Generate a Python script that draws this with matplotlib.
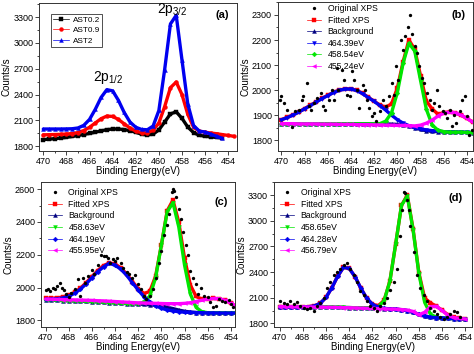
import matplotlib
matplotlib.use('Agg')
import matplotlib.pyplot as plt
from matplotlib.ticker import MultipleLocator, FixedLocator

plt.rcParams['font.family'] = ['Liberation Sans', 'DejaVu Sans']
plt.rcParams['mathtext.fontset'] = 'custom'
plt.rcParams['mathtext.rm'] = 'Liberation Sans'
plt.rcParams['mathtext.it'] = 'Liberation Sans:italic'
plt.rcParams['mathtext.bf'] = 'Liberation Sans:bold'
plt.rcParams['mathtext.default'] = 'regular'

# ---------------- data ----------------
E = [470.0, 469.5, 469.0, 468.5, 468.0, 467.5, 467.0, 466.5, 466.0, 465.5, 465.0,
     464.5, 464.0, 463.5, 463.0, 462.5, 462.0, 461.5, 461.0, 460.5, 460.0, 459.5,
     459.0, 458.5, 458.0, 457.5, 457.0, 456.5, 456.0, 455.5, 455.0, 454.5, 454.0, 453.5]

# panel (a)
ast02 = [1877, 1882, 1888, 1895, 1903, 1913, 1924, 1936, 1949, 1963, 1978, 1992, 2000,
         2000, 1993, 1980, 1962, 1940, 1930, 1940, 1990, 2081, 2175, 2200, 2123, 2023,
         1958, 1927, 1915, 1908, 1902, 1896]
ast09 = [1932, 1934, 1936, 1938, 1942, 1947, 1959, 1982, 2020, 2070, 2120, 2150, 2146,
         2111, 2060, 2011, 1976, 1957, 1955, 1985, 2070, 2260, 2480, 2545, 2400, 2170,
         2020, 1975, 1963, 1953, 1945, 1935, 1925, 1915]
ast2 = [2000, 2000, 2000, 2000, 2001, 2003, 2012, 2042, 2111, 2229, 2366, 2457, 2443,
        2333, 2192, 2081, 2020, 1995, 1991, 2034, 2215, 2690, 3220, 3320, 2800, 2290,
        2040, 1975, 1965, 1940, 1915, 1890]

# panel (b)
b_fit = [1882, 1891, 1901, 1913, 1926, 1939, 1953, 1967, 1979, 1991, 2000, 2005, 2005,
         1999, 1987, 1971, 1956, 1940, 1932, 1945, 2008, 2114, 2200, 2163, 2058, 1957,
         1925, 1904, 1910, 1913, 1909, 1899, 1887, 1872]
b_bg = [1865, 1865, 1865, 1865, 1865, 1865, 1865, 1865, 1865, 1865, 1865, 1865, 1865,
        1865, 1865, 1865, 1865, 1865, 1865, 1864, 1863, 1861, 1857, 1850, 1843, 1838,
        1835, 1834, 1833, 1832, 1832, 1832, 1831, 1830]
b_p1 = [1881, 1890, 1900, 1912, 1925, 1938, 1952, 1966, 1978, 1990, 1999, 2004, 2004,
        1998, 1986, 1970, 1955, 1938, 1920, 1900, 1882, 1868, 1858, 1850, 1845, 1841,
        1838, 1836, 1834, 1833, 1832, 1831, 1831, 1830]
b_p2 = [1865, 1865, 1865, 1865, 1865, 1865, 1865, 1865, 1865, 1865, 1865, 1865, 1865,
        1865, 1865, 1865, 1865, 1866, 1876, 1909, 1990, 2108, 2187, 2156, 2039, 1924,
        1861, 1840, 1834, 1832, 1832, 1832, 1831, 1830]
b_p3 = [1866, 1866, 1866, 1865, 1865, 1865, 1865, 1864, 1864, 1864, 1863, 1863, 1863,
        1862, 1862, 1862, 1861, 1861, 1860, 1860, 1859, 1859, 1858, 1857, 1860, 1868,
        1880, 1896, 1908, 1912, 1909, 1900, 1887, 1872]
b_sx = [470.1, 470.0, 469.8, 469.5, 469.1, 468.8, 468.5, 468.2, 468.1, 467.8, 467.6,
        467.4, 467.2, 466.9, 466.6, 466.4, 466.2, 465.9, 465.6, 465.5, 465.2, 465.1,
        464.8, 464.6, 464.3, 464.1, 463.9, 463.7, 463.5, 463.3, 463.0, 462.8, 462.6,
        462.4, 462.2, 462.0, 461.8, 461.5, 461.2, 461.0, 460.7, 460.5, 460.3, 460.1,
        459.9, 459.7, 459.5, 459.3, 459.1, 458.9, 458.7, 458.5, 458.3, 458.1, 457.9,
        457.7, 457.4, 457.2, 457.0, 456.8, 456.6, 456.4, 456.1, 455.9, 455.7, 455.5,
        455.3, 455.1, 454.9, 454.6, 454.4, 454.2, 454.0, 453.8, 453.6]
b_sy = [1961, 1975, 1948, 1921, 1853, 1915, 1921, 1961, 1975, 2028, 1935, 1921, 1948,
        1968, 1988, 1935, 1921, 1961, 2001, 1961, 2088, 2001, 2081, 2041, 1981, 1975,
        2075, 2041, 2001, 1928, 2021, 2001, 1961, 1928, 1895, 1908, 1875, 1915, 1961,
        1935, 1975, 2028, 1981, 2095, 2041, 2199, 2161, 2215, 2251, 2301, 2224, 2175,
        2148, 2095, 2048, 2028, 1988, 1961, 1921, 1948, 2001, 1935, 1915, 1908, 1888,
        1921, 1855, 1901, 1868, 1915, 1961, 1975, 1895, 1821, 1841]

# panel (c)
c_fit = [1934, 1935, 1937, 1943, 1954, 1971, 1996, 2030, 2067, 2104, 2134, 2150, 2144,
         2120, 2083, 2037, 1993, 1964, 1977, 2070, 2260, 2468, 2533, 2399, 2179, 2016,
         1946, 1929, 1931, 1934, 1932, 1922, 1905, 1885]
c_bg = [1925, 1924, 1923, 1921, 1920, 1919, 1918, 1916, 1915, 1913, 1911, 1909, 1907,
        1905, 1903, 1901, 1900, 1898, 1895, 1892, 1888, 1880, 1872, 1863, 1856, 1851,
        1848, 1847, 1846, 1846, 1845, 1845, 1845, 1845]
c_p1 = [1925, 1924, 1923, 1921, 1920, 1919, 1918, 1916, 1915, 1913, 1911, 1909, 1907,
        1905, 1903, 1901, 1903, 1910, 1949, 2060, 2259, 2462, 2517, 2370, 2137, 1961,
        1879, 1853, 1847, 1846, 1845, 1845, 1845, 1845]
c_p2 = [1929, 1930, 1932, 1937, 1948, 1965, 1990, 2023, 2060, 2097, 2126, 2148, 2136,
        2112, 2075, 2029, 1985, 1944, 1913, 1890, 1874, 1864, 1858, 1853, 1850, 1849,
        1848, 1847, 1846, 1846, 1845, 1845, 1845, 1845]
c_p3 = [1930, 1929, 1928, 1927, 1926, 1925, 1924, 1923, 1922, 1920, 1919, 1917, 1915,
        1913, 1911, 1909, 1907, 1906, 1905, 1904, 1903, 1902, 1902, 1902, 1904, 1908,
        1915, 1923, 1930, 1934, 1932, 1922, 1905, 1885]
c_sx = [470.0, 469.8, 469.6, 469.4, 469.2, 469.0, 468.8, 468.6, 468.4, 468.2, 468.0,
        467.8, 467.5, 467.2, 467.0, 466.8, 466.6, 466.3, 466.0, 465.8, 465.5, 465.2,
        465.0, 464.8, 464.6, 464.4, 464.2, 464.0, 463.8, 463.5, 463.3, 463.0, 462.8,
        462.5, 462.3, 462.0, 461.8, 461.5, 461.3, 461.0, 460.7, 460.5, 460.2, 460.0,
        459.8, 459.5, 459.3, 459.1, 459.0, 458.9, 458.7, 458.5, 458.3, 458.1, 457.9,
        457.7, 457.5, 457.3, 457.0, 456.8, 456.6, 456.3, 456.0, 455.8, 455.5, 455.3,
        455.0, 454.8, 454.5, 454.2, 454.0, 453.8, 453.5, 453.3]
c_sy = [1985, 1990, 1980, 2000, 1990, 2010, 2025, 2000, 1985, 1960, 1945, 1970, 1990,
        2050, 1950, 2060, 2030, 2070, 2110, 2080, 2135, 2200, 2195, 2190, 2180, 2150,
        2175, 2165, 2180, 2150, 2120, 2095, 2080, 2060, 2075, 2020, 1990, 1950, 1930,
        1950, 1990, 2060, 2150, 2220, 2320, 2380, 2450, 2580, 2600, 2590, 2550, 2480,
        2420, 2340, 2260, 2200, 2100, 2060, 2020, 1960, 2000, 1950, 1940, 1910, 1880,
        1890, 1930, 1920, 1915, 1925, 1900, 1880, 1940, 1930]

# panel (d)
d_fit = [1997, 1996, 1995, 1994, 1994, 1996, 2005, 2035, 2104, 2217, 2351, 2455, 2442,
         2345, 2210, 2094, 2023, 2007, 2068, 2293, 2728, 3178, 3300, 2903, 2392, 2095,
         2040, 2000, 1955, 1900, 1870, 1860, 1854]
d_bg = [1990, 1990, 1990, 1990, 1990, 1990, 1990, 1990, 1990, 1989, 1988, 1986, 1985,
        1983, 1982, 1980, 1978, 1975, 1972, 1969, 1966, 1960, 1950, 1930, 1905, 1885,
        1872, 1866, 1862, 1859, 1856, 1854, 1852]
d_p1 = [1990, 1990, 1990, 1990, 1990, 1990, 1990, 1990, 1990, 1989, 1988, 1986, 1985,
        1983, 1982, 1980, 1978, 1993, 2064, 2292, 2728, 3178, 3290, 2893, 2382, 2045,
        1908, 1871, 1862, 1859, 1856, 1854, 1852]
d_p2 = [1990, 1990, 1990, 1990, 1991, 1994, 2004, 2035, 2104, 2217, 2351, 2455, 2442,
        2345, 2210, 2094, 2023, 1989, 1976, 1970, 1966, 1960, 1950, 1930, 1905, 1885,
        1872, 1866, 1862, 1859, 1856, 1854, 1852]
d_p3 = [1997, 1996, 1995, 1994, 1993, 1992, 1991, 1990, 1989, 1988, 1986, 1985, 1983,
        1981, 1979, 1977, 1975, 1973, 1971, 1968, 1966, 1962, 1955, 1940, 1900, 1930,
        1995, 2000, 1950, 1895, 1868, 1858, 1852]
d_sx = [469.94, 469.66, 469.37, 469.08, 468.79, 468.51, 468.22, 467.93, 467.65, 467.36,
        467.07, 466.78, 466.50, 466.21, 465.92, 465.64, 465.35, 465.06, 464.77, 464.49,
        464.20, 463.91, 463.62, 463.34, 463.05, 462.76, 462.47, 462.19, 461.90, 461.61,
        461.32, 461.04, 460.75, 460.46, 460.17, 459.89, 459.60, 459.46, 459.31, 459.17,
        459.03, 458.89, 458.74, 458.45, 458.16, 457.88, 457.59, 457.30, 457.02, 456.73,
        456.44, 456.15, 455.87, 455.58, 455.29, 455.01, 454.72, 454.43]
d_sy = [2060, 2041, 2021, 2067, 2021, 2052, 2002, 1976, 1964, 1983, 1945, 2002, 2041,
        2098, 2212, 2289, 2365, 2403, 2441, 2480, 2510, 2441, 2365, 2289, 2174, 2136,
        2060, 2002, 1983, 1945, 2002, 2041, 2098, 2193, 2289, 2441, 2823, 3129, 3339,
        3320, 3243, 3129, 2938, 2632, 2365, 2212, 2136, 2060, 1983, 1945, 1907, 1876,
        1850, 1869, 1907, 1945, 1937, 1869]

x_ticks = [470, 468, 466, 464, 462, 460, 458, 456, 454]
labels_b = ['Original XPS', 'Fitted XPS', 'Background', '464.39eV', '458.54eV', '455.24eV']
labels_c = ['Original XPS', 'Fitted XPS', 'Background', '458.63eV', '464.19eV', '455.95eV']
labels_d = ['Original XPS', 'Fitted XPS', 'Background', '458.65eV', '464.28eV', '456.79eV']

# ---------------- style ----------------
BLACK = '#000000'
RED = '#ff0000'
BLUE = '#0000f0'
NAVY = '#000080'
GREEN = '#00e600'
MAGENTA = '#ff00ff'

fig = plt.figure(figsize=(4.74, 3.54), dpi=100)

def make_ax(rect, xlim, ylim, yticks, yminor):
    ax = fig.add_axes(rect)
    ax.set_xlim(*xlim)
    ax.set_ylim(*ylim)
    ax.xaxis.set_major_locator(FixedLocator(x_ticks))
    ax.xaxis.set_minor_locator(MultipleLocator(1))
    ax.yaxis.set_major_locator(FixedLocator(yticks))
    ax.yaxis.set_minor_locator(MultipleLocator(yminor))
    ax.tick_params(which='both', direction='out', top=False, right=False,
                   width=0.6, colors='#222222', labelcolor='black')
    ax.tick_params(which='major', length=3, labelsize=6.5, pad=1.2)
    ax.tick_params(which='minor', length=1.6)
    for s in ax.spines.values():
        s.set_linewidth(0.7)
        s.set_color('#333333')
    ax.set_xlabel('Binding Energy(eV)', fontsize=7, labelpad=0)
    ax.set_ylabel('Counts/s', fontsize=7, labelpad=1)
    return ax

def curve(ax, y, color, marker, label, ms=2.8, lw=2.4, z=2.0):
    x = E[:len(y)]
    ax.plot(x, y, '-', color=color, lw=lw, zorder=z, solid_capstyle='round',
            solid_joinstyle='round')
    ax.plot(x, y, '-', color=color, lw=0.5, marker=marker, ms=ms, mec=color,
            mfc=color, mew=0.3, label=label, zorder=z)

def scatter(ax, xs, ys, label):
    ax.plot(xs, ys, 'o', ls='none', color=BLACK, ms=2.4, mew=0, label=label, zorder=5)

def fit_legend(ax, anchor):
    ax.legend(loc='upper left', bbox_to_anchor=anchor, frameon=False, fontsize=6.2,
              handlelength=1.6, handletextpad=0.8, labelspacing=0.3, borderaxespad=0,
              borderpad=0)

# (a)
axa = make_ax([0.0823, 0.5743, 0.4187, 0.4164], (470.37, 453.2), (1748, 3460),
              [1800, 2100, 2400, 2700, 3000, 3300], 150)
curve(axa, ast02, BLACK, 's', 'AST0.2', z=2.0)
curve(axa, ast09, RED, 'o', 'AST0.9', z=2.1)
curve(axa, ast2, BLUE, '^', 'AST2', z=2.2)
leg = axa.legend(loc='upper left', bbox_to_anchor=(0.058, 0.93), frameon=True,
                 fancybox=False, edgecolor='black', fontsize=5.9, handlelength=2.0,
                 handletextpad=0.4, labelspacing=0.32, borderpad=0.3, borderaxespad=0)
leg.get_frame().set_linewidth(0.6)
axa.text(464.4, 2500, '2p$_{1/2}$', fontsize=10, ha='center', va='bottom')
axa.text(458.8, 3290, '2p$_{3/2}$', fontsize=10, ha='center', va='bottom')
axa.text(0.925, 0.92, '(a)', transform=axa.transAxes, fontsize=8, fontweight='bold',
         ha='center', va='center')

# (b)
axb = make_ax([0.5859, 0.5743, 0.4114, 0.4209], (470.31, 453.5), (1758, 2353),
              [1800, 1900, 2000, 2100, 2200, 2300], 50)
scatter(axb, b_sx, b_sy, labels_b[0])
curve(axb, b_fit, RED, 's', labels_b[1], z=2.0)
curve(axb, b_bg, NAVY, '^', labels_b[2], z=2.1)
curve(axb, b_p1, BLUE, 'v', labels_b[3], z=2.2)
curve(axb, b_p2, GREEN, 'D', labels_b[4], ms=2.4, z=2.3)
curve(axb, b_p3, MAGENTA, '<', labels_b[5], z=2.4)
fit_legend(axb, (0.15, 0.985))
axb.text(0.928, 0.91, '(b)', transform=axb.transAxes, fontsize=8, fontweight='bold',
         ha='center', va='center')

# (c)
axc = make_ax([0.0865, 0.0763, 0.4103, 0.4104], (470.4, 453.6), (1760, 2645),
              [1800, 2000, 2200, 2400, 2600], 100)
scatter(axc, c_sx, c_sy, labels_c[0])
curve(axc, c_fit, RED, 's', labels_c[1], z=2.0)
curve(axc, c_bg, NAVY, '^', labels_c[2], z=2.1)
curve(axc, c_p1, GREEN, 'v', labels_c[3], z=2.2)
curve(axc, c_p2, BLUE, 'D', labels_c[4], ms=2.4, z=2.3)
curve(axc, c_p3, MAGENTA, '<', labels_c[5], z=2.4)
fit_legend(axc, (0.035, 0.955))
axc.text(0.929, 0.863, '(c)', transform=axc.transAxes, fontsize=8, fontweight='bold',
         ha='center', va='center')

# (d)
axd = make_ax([0.578, 0.0763, 0.4178, 0.4104], (470.49, 453.42), (1758, 3456),
              [1800, 2100, 2400, 2700, 3000, 3300], 150)
scatter(axd, d_sx, d_sy, labels_d[0])
curve(axd, d_fit, RED, 's', labels_d[1], z=2.0)
curve(axd, d_bg, NAVY, '^', labels_d[2], z=2.1)
curve(axd, d_p1, GREEN, 'v', labels_d[3], z=2.2)
curve(axd, d_p2, BLUE, 'D', labels_d[4], ms=2.4, z=2.3)
curve(axd, d_p3, MAGENTA, '<', labels_d[5], z=2.4)
fit_legend(axd, (0.03, 0.955))
axd.text(0.916, 0.885, '(d)', transform=axd.transAxes, fontsize=8, fontweight='bold',
         ha='center', va='center')

fig.savefig('out.png', dpi=100)
